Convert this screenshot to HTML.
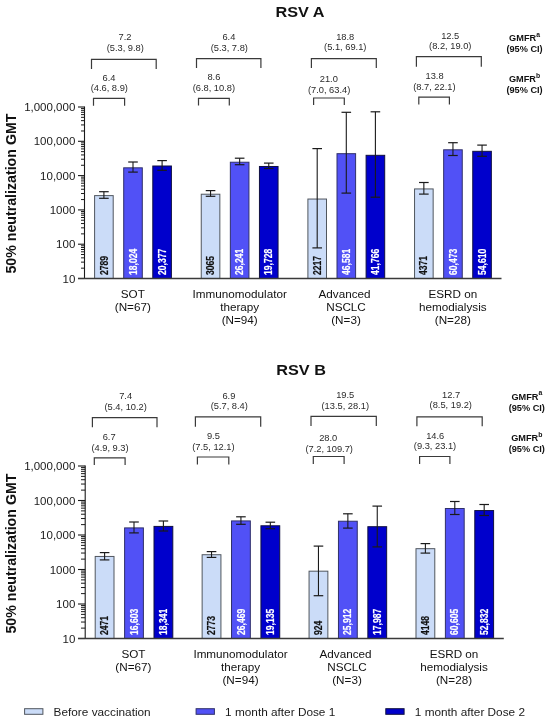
<!DOCTYPE html>
<html><head><meta charset="utf-8"><style>
html,body{margin:0;padding:0;background:#fff;}
svg{display:block;font-family:"Liberation Sans", sans-serif;will-change:transform;}
</style></head><body>
<svg width="550" height="722" viewBox="0 0 550 722">
<rect width="550" height="722" fill="#fff"/>
<text x="0" y="0" font-size="14.4" font-weight="bold" text-anchor="middle" fill="#111" transform="translate(300,16.6) scale(1.13,1)">RSV A</text>
<line x1="84.50" y1="106.50" x2="84.50" y2="278.50" stroke="#1a1a1a" stroke-width="1.1"/>
<line x1="78.00" y1="278.50" x2="84.50" y2="278.50" stroke="#1a1a1a" stroke-width="1.1"/>
<line x1="81.00" y1="268.17" x2="84.50" y2="268.17" stroke="#1a1a1a" stroke-width="1"/>
<line x1="81.00" y1="262.13" x2="84.50" y2="262.13" stroke="#1a1a1a" stroke-width="1"/>
<line x1="81.00" y1="257.85" x2="84.50" y2="257.85" stroke="#1a1a1a" stroke-width="1"/>
<line x1="81.00" y1="254.53" x2="84.50" y2="254.53" stroke="#1a1a1a" stroke-width="1"/>
<line x1="81.00" y1="251.81" x2="84.50" y2="251.81" stroke="#1a1a1a" stroke-width="1"/>
<line x1="81.00" y1="249.51" x2="84.50" y2="249.51" stroke="#1a1a1a" stroke-width="1"/>
<line x1="81.00" y1="247.52" x2="84.50" y2="247.52" stroke="#1a1a1a" stroke-width="1"/>
<line x1="81.00" y1="245.77" x2="84.50" y2="245.77" stroke="#1a1a1a" stroke-width="1"/>
<line x1="78.00" y1="244.20" x2="84.50" y2="244.20" stroke="#1a1a1a" stroke-width="1.1"/>
<line x1="81.00" y1="233.87" x2="84.50" y2="233.87" stroke="#1a1a1a" stroke-width="1"/>
<line x1="81.00" y1="227.83" x2="84.50" y2="227.83" stroke="#1a1a1a" stroke-width="1"/>
<line x1="81.00" y1="223.55" x2="84.50" y2="223.55" stroke="#1a1a1a" stroke-width="1"/>
<line x1="81.00" y1="220.23" x2="84.50" y2="220.23" stroke="#1a1a1a" stroke-width="1"/>
<line x1="81.00" y1="217.51" x2="84.50" y2="217.51" stroke="#1a1a1a" stroke-width="1"/>
<line x1="81.00" y1="215.21" x2="84.50" y2="215.21" stroke="#1a1a1a" stroke-width="1"/>
<line x1="81.00" y1="213.22" x2="84.50" y2="213.22" stroke="#1a1a1a" stroke-width="1"/>
<line x1="81.00" y1="211.47" x2="84.50" y2="211.47" stroke="#1a1a1a" stroke-width="1"/>
<line x1="78.00" y1="209.90" x2="84.50" y2="209.90" stroke="#1a1a1a" stroke-width="1.1"/>
<line x1="81.00" y1="199.57" x2="84.50" y2="199.57" stroke="#1a1a1a" stroke-width="1"/>
<line x1="81.00" y1="193.53" x2="84.50" y2="193.53" stroke="#1a1a1a" stroke-width="1"/>
<line x1="81.00" y1="189.25" x2="84.50" y2="189.25" stroke="#1a1a1a" stroke-width="1"/>
<line x1="81.00" y1="185.93" x2="84.50" y2="185.93" stroke="#1a1a1a" stroke-width="1"/>
<line x1="81.00" y1="183.21" x2="84.50" y2="183.21" stroke="#1a1a1a" stroke-width="1"/>
<line x1="81.00" y1="180.91" x2="84.50" y2="180.91" stroke="#1a1a1a" stroke-width="1"/>
<line x1="81.00" y1="178.92" x2="84.50" y2="178.92" stroke="#1a1a1a" stroke-width="1"/>
<line x1="81.00" y1="177.17" x2="84.50" y2="177.17" stroke="#1a1a1a" stroke-width="1"/>
<line x1="78.00" y1="175.60" x2="84.50" y2="175.60" stroke="#1a1a1a" stroke-width="1.1"/>
<line x1="81.00" y1="165.27" x2="84.50" y2="165.27" stroke="#1a1a1a" stroke-width="1"/>
<line x1="81.00" y1="159.23" x2="84.50" y2="159.23" stroke="#1a1a1a" stroke-width="1"/>
<line x1="81.00" y1="154.95" x2="84.50" y2="154.95" stroke="#1a1a1a" stroke-width="1"/>
<line x1="81.00" y1="151.63" x2="84.50" y2="151.63" stroke="#1a1a1a" stroke-width="1"/>
<line x1="81.00" y1="148.91" x2="84.50" y2="148.91" stroke="#1a1a1a" stroke-width="1"/>
<line x1="81.00" y1="146.61" x2="84.50" y2="146.61" stroke="#1a1a1a" stroke-width="1"/>
<line x1="81.00" y1="144.62" x2="84.50" y2="144.62" stroke="#1a1a1a" stroke-width="1"/>
<line x1="81.00" y1="142.87" x2="84.50" y2="142.87" stroke="#1a1a1a" stroke-width="1"/>
<line x1="78.00" y1="141.30" x2="84.50" y2="141.30" stroke="#1a1a1a" stroke-width="1.1"/>
<line x1="81.00" y1="130.97" x2="84.50" y2="130.97" stroke="#1a1a1a" stroke-width="1"/>
<line x1="81.00" y1="124.93" x2="84.50" y2="124.93" stroke="#1a1a1a" stroke-width="1"/>
<line x1="81.00" y1="120.65" x2="84.50" y2="120.65" stroke="#1a1a1a" stroke-width="1"/>
<line x1="81.00" y1="117.33" x2="84.50" y2="117.33" stroke="#1a1a1a" stroke-width="1"/>
<line x1="81.00" y1="114.61" x2="84.50" y2="114.61" stroke="#1a1a1a" stroke-width="1"/>
<line x1="81.00" y1="112.31" x2="84.50" y2="112.31" stroke="#1a1a1a" stroke-width="1"/>
<line x1="81.00" y1="110.32" x2="84.50" y2="110.32" stroke="#1a1a1a" stroke-width="1"/>
<line x1="81.00" y1="108.57" x2="84.50" y2="108.57" stroke="#1a1a1a" stroke-width="1"/>
<line x1="78.00" y1="107.00" x2="84.50" y2="107.00" stroke="#1a1a1a" stroke-width="1.1"/>
<text x="75.30" y="282.50" font-size="11.5" text-anchor="end" font-weight="normal" fill="#1a1a1a" >10</text>
<text x="75.30" y="248.20" font-size="11.5" text-anchor="end" font-weight="normal" fill="#1a1a1a" >100</text>
<text x="75.30" y="213.90" font-size="11.5" text-anchor="end" font-weight="normal" fill="#1a1a1a" >1000</text>
<text x="75.30" y="179.60" font-size="11.5" text-anchor="end" font-weight="normal" fill="#1a1a1a" >10,000</text>
<text x="75.30" y="145.30" font-size="11.5" text-anchor="end" font-weight="normal" fill="#1a1a1a" >100,000</text>
<text x="75.30" y="111.00" font-size="11.5" text-anchor="end" font-weight="normal" fill="#1a1a1a" >1,000,000</text>
<text x="0" y="0" font-size="14.2" font-weight="bold" text-anchor="middle" fill="#111" transform="translate(15.8,193.6) rotate(-90)">50% neutralization GMT</text>
<rect x="94.60" y="195.62" width="18.60" height="82.88" fill="#cbdcf8" stroke="#50565e" stroke-width="1"/>
<rect x="123.70" y="167.82" width="18.60" height="110.68" fill="#5151f6" stroke="#30306a" stroke-width="1"/>
<rect x="152.80" y="166.00" width="18.60" height="112.50" fill="#0000cc" stroke="#101040" stroke-width="1"/>
<rect x="201.25" y="194.22" width="18.60" height="84.28" fill="#cbdcf8" stroke="#50565e" stroke-width="1"/>
<rect x="230.35" y="162.23" width="18.60" height="116.27" fill="#5151f6" stroke="#30306a" stroke-width="1"/>
<rect x="259.45" y="166.48" width="18.60" height="112.02" fill="#0000cc" stroke="#101040" stroke-width="1"/>
<rect x="307.90" y="199.04" width="18.60" height="79.46" fill="#cbdcf8" stroke="#50565e" stroke-width="1"/>
<rect x="337.00" y="153.68" width="18.60" height="124.82" fill="#5151f6" stroke="#30306a" stroke-width="1"/>
<rect x="366.10" y="155.31" width="18.60" height="123.19" fill="#0000cc" stroke="#101040" stroke-width="1"/>
<rect x="414.55" y="188.93" width="18.60" height="89.57" fill="#cbdcf8" stroke="#50565e" stroke-width="1"/>
<rect x="443.65" y="149.79" width="18.60" height="128.71" fill="#5151f6" stroke="#30306a" stroke-width="1"/>
<rect x="472.75" y="151.31" width="18.60" height="127.19" fill="#0000cc" stroke="#101040" stroke-width="1"/>
<line x1="78.00" y1="278.50" x2="501.50" y2="278.50" stroke="#3a3a3a" stroke-width="1.4"/>
<line x1="103.90" y1="191.70" x2="103.90" y2="198.30" stroke="#1a1a1a" stroke-width="1.1"/>
<line x1="99.10" y1="191.70" x2="108.70" y2="191.70" stroke="#1a1a1a" stroke-width="1.2"/>
<line x1="99.10" y1="198.30" x2="108.70" y2="198.30" stroke="#1a1a1a" stroke-width="1.2"/>
<text x="0" y="0" font-size="10.3" font-weight="bold" fill="#111" stroke="#111" stroke-width="0.2" transform="translate(107.50,274.90) rotate(-90) scale(0.83,1)">2789</text>
<line x1="133.00" y1="162.00" x2="133.00" y2="172.10" stroke="#1a1a1a" stroke-width="1.1"/>
<line x1="128.20" y1="162.00" x2="137.80" y2="162.00" stroke="#1a1a1a" stroke-width="1.2"/>
<line x1="128.20" y1="172.10" x2="137.80" y2="172.10" stroke="#1a1a1a" stroke-width="1.2"/>
<text x="0" y="0" font-size="10.3" font-weight="bold" fill="#fff" stroke="#fff" stroke-width="0.2" transform="translate(136.60,274.90) rotate(-90) scale(0.83,1)">18,024</text>
<line x1="162.10" y1="160.60" x2="162.10" y2="170.30" stroke="#1a1a1a" stroke-width="1.1"/>
<line x1="157.30" y1="160.60" x2="166.90" y2="160.60" stroke="#1a1a1a" stroke-width="1.2"/>
<line x1="157.30" y1="170.30" x2="166.90" y2="170.30" stroke="#1a1a1a" stroke-width="1.2"/>
<text x="0" y="0" font-size="10.3" font-weight="bold" fill="#fff" stroke="#fff" stroke-width="0.2" transform="translate(165.70,274.90) rotate(-90) scale(0.83,1)">20,377</text>
<line x1="210.55" y1="190.60" x2="210.55" y2="196.30" stroke="#1a1a1a" stroke-width="1.1"/>
<line x1="205.75" y1="190.60" x2="215.35" y2="190.60" stroke="#1a1a1a" stroke-width="1.2"/>
<line x1="205.75" y1="196.30" x2="215.35" y2="196.30" stroke="#1a1a1a" stroke-width="1.2"/>
<text x="0" y="0" font-size="10.3" font-weight="bold" fill="#111" stroke="#111" stroke-width="0.2" transform="translate(214.15,274.90) rotate(-90) scale(0.83,1)">3065</text>
<line x1="239.65" y1="158.20" x2="239.65" y2="164.70" stroke="#1a1a1a" stroke-width="1.1"/>
<line x1="234.85" y1="158.20" x2="244.45" y2="158.20" stroke="#1a1a1a" stroke-width="1.2"/>
<line x1="234.85" y1="164.70" x2="244.45" y2="164.70" stroke="#1a1a1a" stroke-width="1.2"/>
<text x="0" y="0" font-size="10.3" font-weight="bold" fill="#fff" stroke="#fff" stroke-width="0.2" transform="translate(243.25,274.90) rotate(-90) scale(0.83,1)">26,241</text>
<line x1="268.75" y1="163.10" x2="268.75" y2="168.50" stroke="#1a1a1a" stroke-width="1.1"/>
<line x1="263.95" y1="163.10" x2="273.55" y2="163.10" stroke="#1a1a1a" stroke-width="1.2"/>
<line x1="263.95" y1="168.50" x2="273.55" y2="168.50" stroke="#1a1a1a" stroke-width="1.2"/>
<text x="0" y="0" font-size="10.3" font-weight="bold" fill="#fff" stroke="#fff" stroke-width="0.2" transform="translate(272.35,274.90) rotate(-90) scale(0.83,1)">19,728</text>
<line x1="317.20" y1="148.60" x2="317.20" y2="247.90" stroke="#1a1a1a" stroke-width="1.1"/>
<line x1="312.40" y1="148.60" x2="322.00" y2="148.60" stroke="#1a1a1a" stroke-width="1.2"/>
<line x1="312.40" y1="247.90" x2="322.00" y2="247.90" stroke="#1a1a1a" stroke-width="1.2"/>
<text x="0" y="0" font-size="10.3" font-weight="bold" fill="#111" stroke="#111" stroke-width="0.2" transform="translate(320.80,274.90) rotate(-90) scale(0.83,1)">2217</text>
<line x1="346.30" y1="112.30" x2="346.30" y2="193.10" stroke="#1a1a1a" stroke-width="1.1"/>
<line x1="341.50" y1="112.30" x2="351.10" y2="112.30" stroke="#1a1a1a" stroke-width="1.2"/>
<line x1="341.50" y1="193.10" x2="351.10" y2="193.10" stroke="#1a1a1a" stroke-width="1.2"/>
<text x="0" y="0" font-size="10.3" font-weight="bold" fill="#fff" stroke="#fff" stroke-width="0.2" transform="translate(349.90,274.90) rotate(-90) scale(0.83,1)">46,581</text>
<line x1="375.40" y1="111.80" x2="375.40" y2="197.20" stroke="#1a1a1a" stroke-width="1.1"/>
<line x1="370.60" y1="111.80" x2="380.20" y2="111.80" stroke="#1a1a1a" stroke-width="1.2"/>
<line x1="370.60" y1="197.20" x2="380.20" y2="197.20" stroke="#1a1a1a" stroke-width="1.2"/>
<text x="0" y="0" font-size="10.3" font-weight="bold" fill="#fff" stroke="#fff" stroke-width="0.2" transform="translate(379.00,274.90) rotate(-90) scale(0.83,1)">41,766</text>
<line x1="423.85" y1="182.50" x2="423.85" y2="194.10" stroke="#1a1a1a" stroke-width="1.1"/>
<line x1="419.05" y1="182.50" x2="428.65" y2="182.50" stroke="#1a1a1a" stroke-width="1.2"/>
<line x1="419.05" y1="194.10" x2="428.65" y2="194.10" stroke="#1a1a1a" stroke-width="1.2"/>
<text x="0" y="0" font-size="10.3" font-weight="bold" fill="#111" stroke="#111" stroke-width="0.2" transform="translate(427.45,274.90) rotate(-90) scale(0.83,1)">4371</text>
<line x1="452.95" y1="142.70" x2="452.95" y2="155.50" stroke="#1a1a1a" stroke-width="1.1"/>
<line x1="448.15" y1="142.70" x2="457.75" y2="142.70" stroke="#1a1a1a" stroke-width="1.2"/>
<line x1="448.15" y1="155.50" x2="457.75" y2="155.50" stroke="#1a1a1a" stroke-width="1.2"/>
<text x="0" y="0" font-size="10.3" font-weight="bold" fill="#fff" stroke="#fff" stroke-width="0.2" transform="translate(456.55,274.90) rotate(-90) scale(0.83,1)">60,473</text>
<line x1="482.05" y1="145.10" x2="482.05" y2="156.30" stroke="#1a1a1a" stroke-width="1.1"/>
<line x1="477.25" y1="145.10" x2="486.85" y2="145.10" stroke="#1a1a1a" stroke-width="1.2"/>
<line x1="477.25" y1="156.30" x2="486.85" y2="156.30" stroke="#1a1a1a" stroke-width="1.2"/>
<text x="0" y="0" font-size="10.3" font-weight="bold" fill="#fff" stroke="#fff" stroke-width="0.2" transform="translate(485.65,274.90) rotate(-90) scale(0.83,1)">54,610</text>
<polyline points="91.50,68.90 91.50,59.30 156.20,59.30 156.20,68.90" fill="none" stroke="#3a3a3a" stroke-width="1.2"/>
<polyline points="196.50,68.10 196.50,58.60 260.90,58.60 260.90,68.10" fill="none" stroke="#3a3a3a" stroke-width="1.2"/>
<polyline points="311.40,68.00 311.40,58.60 376.30,58.60 376.30,68.00" fill="none" stroke="#3a3a3a" stroke-width="1.2"/>
<polyline points="416.40,66.80 416.40,56.60 481.30,56.60 481.30,66.80" fill="none" stroke="#3a3a3a" stroke-width="1.2"/>
<polyline points="93.50,105.70 93.50,98.40 124.60,98.40 124.60,105.70" fill="none" stroke="#3a3a3a" stroke-width="1.2"/>
<polyline points="198.50,105.50 198.50,98.40 229.30,98.40 229.30,105.50" fill="none" stroke="#3a3a3a" stroke-width="1.2"/>
<polyline points="313.60,104.90 313.60,98.00 344.30,98.00 344.30,104.90" fill="none" stroke="#3a3a3a" stroke-width="1.2"/>
<polyline points="418.80,104.50 418.80,97.20 449.40,97.20 449.40,104.50" fill="none" stroke="#3a3a3a" stroke-width="1.2"/>
<text x="125.00" y="40.30" font-size="9.3" text-anchor="middle" font-weight="normal" fill="#2a2a2a" >7.2</text>
<text x="125.25" y="51.20" font-size="9.3" text-anchor="middle" font-weight="normal" fill="#2a2a2a" >(5.3, 9.8)</text>
<text x="228.85" y="40.00" font-size="9.3" text-anchor="middle" font-weight="normal" fill="#2a2a2a" >6.4</text>
<text x="229.30" y="50.80" font-size="9.3" text-anchor="middle" font-weight="normal" fill="#2a2a2a" >(5.3, 7.8)</text>
<text x="345.25" y="39.60" font-size="9.3" text-anchor="middle" font-weight="normal" fill="#2a2a2a" >18.8</text>
<text x="345.25" y="50.40" font-size="9.3" text-anchor="middle" font-weight="normal" fill="#2a2a2a" >(5.1, 69.1)</text>
<text x="450.25" y="38.60" font-size="9.3" text-anchor="middle" font-weight="normal" fill="#2a2a2a" >12.5</text>
<text x="450.25" y="48.90" font-size="9.3" text-anchor="middle" font-weight="normal" fill="#2a2a2a" >(8.2, 19.0)</text>
<text x="109.00" y="80.50" font-size="9.3" text-anchor="middle" font-weight="normal" fill="#2a2a2a" >6.4</text>
<text x="109.30" y="91.10" font-size="9.3" text-anchor="middle" font-weight="normal" fill="#2a2a2a" >(4.6, 8.9)</text>
<text x="213.85" y="80.30" font-size="9.3" text-anchor="middle" font-weight="normal" fill="#2a2a2a" >8.6</text>
<text x="213.85" y="91.20" font-size="9.3" text-anchor="middle" font-weight="normal" fill="#2a2a2a" >(6.8, 10.8)</text>
<text x="328.85" y="82.10" font-size="9.3" text-anchor="middle" font-weight="normal" fill="#2a2a2a" >21.0</text>
<text x="329.10" y="92.60" font-size="9.3" text-anchor="middle" font-weight="normal" fill="#2a2a2a" >(7.0, 63.4)</text>
<text x="434.55" y="78.80" font-size="9.3" text-anchor="middle" font-weight="normal" fill="#2a2a2a" >13.8</text>
<text x="434.35" y="89.70" font-size="9.3" text-anchor="middle" font-weight="normal" fill="#2a2a2a" >(8.7, 22.1)</text>
<text x="524.50" y="41.00" font-size="9.2" font-weight="bold" text-anchor="middle" fill="#111">GMFR<tspan font-size="6.8" dy="-4.3">a</tspan></text>
<text x="524.50" y="51.80" font-size="9.2" text-anchor="middle" font-weight="bold" fill="#111" >(95% CI)</text>
<text x="524.50" y="82.40" font-size="9.2" font-weight="bold" text-anchor="middle" fill="#111">GMFR<tspan font-size="6.8" dy="-4.3">b</tspan></text>
<text x="524.50" y="93.20" font-size="9.2" text-anchor="middle" font-weight="bold" fill="#111" >(95% CI)</text>
<text x="132.80" y="298.00" font-size="11.7" text-anchor="middle" font-weight="normal" fill="#111" >SOT</text>
<text x="132.80" y="311.10" font-size="11.7" text-anchor="middle" font-weight="normal" fill="#111" >(N=67)</text>
<text x="239.70" y="298.00" font-size="11.7" text-anchor="middle" font-weight="normal" fill="#111" >Immunomodulator</text>
<text x="239.70" y="311.10" font-size="11.7" text-anchor="middle" font-weight="normal" fill="#111" >therapy</text>
<text x="239.70" y="324.20" font-size="11.7" text-anchor="middle" font-weight="normal" fill="#111" >(N=94)</text>
<text x="344.50" y="298.00" font-size="11.7" text-anchor="middle" font-weight="normal" fill="#111" >Advanced</text>
<text x="346.00" y="311.10" font-size="11.7" text-anchor="middle" font-weight="normal" fill="#111" >NSCLC</text>
<text x="346.00" y="324.20" font-size="11.7" text-anchor="middle" font-weight="normal" fill="#111" >(N=3)</text>
<text x="452.80" y="298.00" font-size="11.7" text-anchor="middle" font-weight="normal" fill="#111" >ESRD on</text>
<text x="452.80" y="311.10" font-size="11.7" text-anchor="middle" font-weight="normal" fill="#111" >hemodialysis</text>
<text x="452.80" y="324.20" font-size="11.7" text-anchor="middle" font-weight="normal" fill="#111" >(N=28)</text>
<text x="0" y="0" font-size="14.4" font-weight="bold" text-anchor="middle" fill="#111" transform="translate(301.1,375.0) scale(1.13,1)">RSV B</text>
<line x1="85.20" y1="465.50" x2="85.20" y2="638.50" stroke="#1a1a1a" stroke-width="1.1"/>
<line x1="78.00" y1="638.50" x2="85.20" y2="638.50" stroke="#1a1a1a" stroke-width="1.1"/>
<line x1="81.00" y1="628.11" x2="85.20" y2="628.11" stroke="#1a1a1a" stroke-width="1"/>
<line x1="81.00" y1="622.04" x2="85.20" y2="622.04" stroke="#1a1a1a" stroke-width="1"/>
<line x1="81.00" y1="617.73" x2="85.20" y2="617.73" stroke="#1a1a1a" stroke-width="1"/>
<line x1="81.00" y1="614.39" x2="85.20" y2="614.39" stroke="#1a1a1a" stroke-width="1"/>
<line x1="81.00" y1="611.65" x2="85.20" y2="611.65" stroke="#1a1a1a" stroke-width="1"/>
<line x1="81.00" y1="609.34" x2="85.20" y2="609.34" stroke="#1a1a1a" stroke-width="1"/>
<line x1="81.00" y1="607.34" x2="85.20" y2="607.34" stroke="#1a1a1a" stroke-width="1"/>
<line x1="81.00" y1="605.58" x2="85.20" y2="605.58" stroke="#1a1a1a" stroke-width="1"/>
<line x1="78.00" y1="604.00" x2="85.20" y2="604.00" stroke="#1a1a1a" stroke-width="1.1"/>
<line x1="81.00" y1="593.61" x2="85.20" y2="593.61" stroke="#1a1a1a" stroke-width="1"/>
<line x1="81.00" y1="587.54" x2="85.20" y2="587.54" stroke="#1a1a1a" stroke-width="1"/>
<line x1="81.00" y1="583.23" x2="85.20" y2="583.23" stroke="#1a1a1a" stroke-width="1"/>
<line x1="81.00" y1="579.89" x2="85.20" y2="579.89" stroke="#1a1a1a" stroke-width="1"/>
<line x1="81.00" y1="577.15" x2="85.20" y2="577.15" stroke="#1a1a1a" stroke-width="1"/>
<line x1="81.00" y1="574.84" x2="85.20" y2="574.84" stroke="#1a1a1a" stroke-width="1"/>
<line x1="81.00" y1="572.84" x2="85.20" y2="572.84" stroke="#1a1a1a" stroke-width="1"/>
<line x1="81.00" y1="571.08" x2="85.20" y2="571.08" stroke="#1a1a1a" stroke-width="1"/>
<line x1="78.00" y1="569.50" x2="85.20" y2="569.50" stroke="#1a1a1a" stroke-width="1.1"/>
<line x1="81.00" y1="559.11" x2="85.20" y2="559.11" stroke="#1a1a1a" stroke-width="1"/>
<line x1="81.00" y1="553.04" x2="85.20" y2="553.04" stroke="#1a1a1a" stroke-width="1"/>
<line x1="81.00" y1="548.73" x2="85.20" y2="548.73" stroke="#1a1a1a" stroke-width="1"/>
<line x1="81.00" y1="545.39" x2="85.20" y2="545.39" stroke="#1a1a1a" stroke-width="1"/>
<line x1="81.00" y1="542.65" x2="85.20" y2="542.65" stroke="#1a1a1a" stroke-width="1"/>
<line x1="81.00" y1="540.34" x2="85.20" y2="540.34" stroke="#1a1a1a" stroke-width="1"/>
<line x1="81.00" y1="538.34" x2="85.20" y2="538.34" stroke="#1a1a1a" stroke-width="1"/>
<line x1="81.00" y1="536.58" x2="85.20" y2="536.58" stroke="#1a1a1a" stroke-width="1"/>
<line x1="78.00" y1="535.00" x2="85.20" y2="535.00" stroke="#1a1a1a" stroke-width="1.1"/>
<line x1="81.00" y1="524.61" x2="85.20" y2="524.61" stroke="#1a1a1a" stroke-width="1"/>
<line x1="81.00" y1="518.54" x2="85.20" y2="518.54" stroke="#1a1a1a" stroke-width="1"/>
<line x1="81.00" y1="514.23" x2="85.20" y2="514.23" stroke="#1a1a1a" stroke-width="1"/>
<line x1="81.00" y1="510.89" x2="85.20" y2="510.89" stroke="#1a1a1a" stroke-width="1"/>
<line x1="81.00" y1="508.15" x2="85.20" y2="508.15" stroke="#1a1a1a" stroke-width="1"/>
<line x1="81.00" y1="505.84" x2="85.20" y2="505.84" stroke="#1a1a1a" stroke-width="1"/>
<line x1="81.00" y1="503.84" x2="85.20" y2="503.84" stroke="#1a1a1a" stroke-width="1"/>
<line x1="81.00" y1="502.08" x2="85.20" y2="502.08" stroke="#1a1a1a" stroke-width="1"/>
<line x1="78.00" y1="500.50" x2="85.20" y2="500.50" stroke="#1a1a1a" stroke-width="1.1"/>
<line x1="81.00" y1="490.11" x2="85.20" y2="490.11" stroke="#1a1a1a" stroke-width="1"/>
<line x1="81.00" y1="484.04" x2="85.20" y2="484.04" stroke="#1a1a1a" stroke-width="1"/>
<line x1="81.00" y1="479.73" x2="85.20" y2="479.73" stroke="#1a1a1a" stroke-width="1"/>
<line x1="81.00" y1="476.39" x2="85.20" y2="476.39" stroke="#1a1a1a" stroke-width="1"/>
<line x1="81.00" y1="473.65" x2="85.20" y2="473.65" stroke="#1a1a1a" stroke-width="1"/>
<line x1="81.00" y1="471.34" x2="85.20" y2="471.34" stroke="#1a1a1a" stroke-width="1"/>
<line x1="81.00" y1="469.34" x2="85.20" y2="469.34" stroke="#1a1a1a" stroke-width="1"/>
<line x1="81.00" y1="467.58" x2="85.20" y2="467.58" stroke="#1a1a1a" stroke-width="1"/>
<line x1="78.00" y1="466.00" x2="85.20" y2="466.00" stroke="#1a1a1a" stroke-width="1.1"/>
<text x="75.30" y="642.50" font-size="11.5" text-anchor="end" font-weight="normal" fill="#1a1a1a" >10</text>
<text x="75.30" y="608.00" font-size="11.5" text-anchor="end" font-weight="normal" fill="#1a1a1a" >100</text>
<text x="75.30" y="573.50" font-size="11.5" text-anchor="end" font-weight="normal" fill="#1a1a1a" >1000</text>
<text x="75.30" y="539.00" font-size="11.5" text-anchor="end" font-weight="normal" fill="#1a1a1a" >10,000</text>
<text x="75.30" y="504.50" font-size="11.5" text-anchor="end" font-weight="normal" fill="#1a1a1a" >100,000</text>
<text x="75.30" y="470.00" font-size="11.5" text-anchor="end" font-weight="normal" fill="#1a1a1a" >1,000,000</text>
<text x="0" y="0" font-size="14.2" font-weight="bold" text-anchor="middle" fill="#111" transform="translate(15.8,553.6) rotate(-90)">50% neutralization GMT</text>
<rect x="95.20" y="556.45" width="18.80" height="82.05" fill="#cbdcf8" stroke="#50565e" stroke-width="1"/>
<rect x="124.60" y="527.90" width="18.80" height="110.60" fill="#5151f6" stroke="#30306a" stroke-width="1"/>
<rect x="154.00" y="526.41" width="18.80" height="112.09" fill="#0000cc" stroke="#101040" stroke-width="1"/>
<rect x="202.13" y="554.72" width="18.80" height="83.78" fill="#cbdcf8" stroke="#50565e" stroke-width="1"/>
<rect x="231.53" y="520.92" width="18.80" height="117.58" fill="#5151f6" stroke="#30306a" stroke-width="1"/>
<rect x="260.93" y="525.78" width="18.80" height="112.72" fill="#0000cc" stroke="#101040" stroke-width="1"/>
<rect x="309.06" y="571.18" width="18.80" height="67.32" fill="#cbdcf8" stroke="#50565e" stroke-width="1"/>
<rect x="338.46" y="521.23" width="18.80" height="117.27" fill="#5151f6" stroke="#30306a" stroke-width="1"/>
<rect x="367.86" y="526.70" width="18.80" height="111.80" fill="#0000cc" stroke="#101040" stroke-width="1"/>
<rect x="415.99" y="548.68" width="18.80" height="89.82" fill="#cbdcf8" stroke="#50565e" stroke-width="1"/>
<rect x="445.39" y="508.50" width="18.80" height="130.00" fill="#5151f6" stroke="#30306a" stroke-width="1"/>
<rect x="474.79" y="510.56" width="18.80" height="127.94" fill="#0000cc" stroke="#101040" stroke-width="1"/>
<line x1="78.00" y1="638.50" x2="503.80" y2="638.50" stroke="#3a3a3a" stroke-width="1.4"/>
<line x1="104.60" y1="552.60" x2="104.60" y2="559.90" stroke="#1a1a1a" stroke-width="1.1"/>
<line x1="99.80" y1="552.60" x2="109.40" y2="552.60" stroke="#1a1a1a" stroke-width="1.2"/>
<line x1="99.80" y1="559.90" x2="109.40" y2="559.90" stroke="#1a1a1a" stroke-width="1.2"/>
<text x="0" y="0" font-size="10.3" font-weight="bold" fill="#111" stroke="#111" stroke-width="0.2" transform="translate(108.20,634.90) rotate(-90) scale(0.83,1)">2471</text>
<line x1="134.00" y1="522.00" x2="134.00" y2="532.90" stroke="#1a1a1a" stroke-width="1.1"/>
<line x1="129.20" y1="522.00" x2="138.80" y2="522.00" stroke="#1a1a1a" stroke-width="1.2"/>
<line x1="129.20" y1="532.90" x2="138.80" y2="532.90" stroke="#1a1a1a" stroke-width="1.2"/>
<text x="0" y="0" font-size="10.3" font-weight="bold" fill="#fff" stroke="#fff" stroke-width="0.2" transform="translate(137.60,634.90) rotate(-90) scale(0.83,1)">16,603</text>
<line x1="163.40" y1="521.00" x2="163.40" y2="531.00" stroke="#1a1a1a" stroke-width="1.1"/>
<line x1="158.60" y1="521.00" x2="168.20" y2="521.00" stroke="#1a1a1a" stroke-width="1.2"/>
<line x1="158.60" y1="531.00" x2="168.20" y2="531.00" stroke="#1a1a1a" stroke-width="1.2"/>
<text x="0" y="0" font-size="10.3" font-weight="bold" fill="#fff" stroke="#fff" stroke-width="0.2" transform="translate(167.00,634.90) rotate(-90) scale(0.83,1)">18,341</text>
<line x1="211.53" y1="551.60" x2="211.53" y2="557.40" stroke="#1a1a1a" stroke-width="1.1"/>
<line x1="206.73" y1="551.60" x2="216.33" y2="551.60" stroke="#1a1a1a" stroke-width="1.2"/>
<line x1="206.73" y1="557.40" x2="216.33" y2="557.40" stroke="#1a1a1a" stroke-width="1.2"/>
<text x="0" y="0" font-size="10.3" font-weight="bold" fill="#111" stroke="#111" stroke-width="0.2" transform="translate(215.13,634.90) rotate(-90) scale(0.83,1)">2773</text>
<line x1="240.93" y1="516.80" x2="240.93" y2="524.30" stroke="#1a1a1a" stroke-width="1.1"/>
<line x1="236.13" y1="516.80" x2="245.73" y2="516.80" stroke="#1a1a1a" stroke-width="1.2"/>
<line x1="236.13" y1="524.30" x2="245.73" y2="524.30" stroke="#1a1a1a" stroke-width="1.2"/>
<text x="0" y="0" font-size="10.3" font-weight="bold" fill="#fff" stroke="#fff" stroke-width="0.2" transform="translate(244.53,634.90) rotate(-90) scale(0.83,1)">26,469</text>
<line x1="270.33" y1="522.20" x2="270.33" y2="528.70" stroke="#1a1a1a" stroke-width="1.1"/>
<line x1="265.53" y1="522.20" x2="275.13" y2="522.20" stroke="#1a1a1a" stroke-width="1.2"/>
<line x1="265.53" y1="528.70" x2="275.13" y2="528.70" stroke="#1a1a1a" stroke-width="1.2"/>
<text x="0" y="0" font-size="10.3" font-weight="bold" fill="#fff" stroke="#fff" stroke-width="0.2" transform="translate(273.93,634.90) rotate(-90) scale(0.83,1)">19,135</text>
<line x1="318.46" y1="546.10" x2="318.46" y2="595.70" stroke="#1a1a1a" stroke-width="1.1"/>
<line x1="313.66" y1="546.10" x2="323.26" y2="546.10" stroke="#1a1a1a" stroke-width="1.2"/>
<line x1="313.66" y1="595.70" x2="323.26" y2="595.70" stroke="#1a1a1a" stroke-width="1.2"/>
<text x="0" y="0" font-size="10.3" font-weight="bold" fill="#111" stroke="#111" stroke-width="0.2" transform="translate(322.06,634.90) rotate(-90) scale(0.83,1)">924</text>
<line x1="347.86" y1="513.80" x2="347.86" y2="528.10" stroke="#1a1a1a" stroke-width="1.1"/>
<line x1="343.06" y1="513.80" x2="352.66" y2="513.80" stroke="#1a1a1a" stroke-width="1.2"/>
<line x1="343.06" y1="528.10" x2="352.66" y2="528.10" stroke="#1a1a1a" stroke-width="1.2"/>
<text x="0" y="0" font-size="10.3" font-weight="bold" fill="#fff" stroke="#fff" stroke-width="0.2" transform="translate(351.46,634.90) rotate(-90) scale(0.83,1)">25,912</text>
<line x1="377.26" y1="506.10" x2="377.26" y2="546.90" stroke="#1a1a1a" stroke-width="1.1"/>
<line x1="372.46" y1="506.10" x2="382.06" y2="506.10" stroke="#1a1a1a" stroke-width="1.2"/>
<line x1="372.46" y1="546.90" x2="382.06" y2="546.90" stroke="#1a1a1a" stroke-width="1.2"/>
<text x="0" y="0" font-size="10.3" font-weight="bold" fill="#fff" stroke="#fff" stroke-width="0.2" transform="translate(380.86,634.90) rotate(-90) scale(0.83,1)">17,987</text>
<line x1="425.39" y1="543.60" x2="425.39" y2="553.10" stroke="#1a1a1a" stroke-width="1.1"/>
<line x1="420.59" y1="543.60" x2="430.19" y2="543.60" stroke="#1a1a1a" stroke-width="1.2"/>
<line x1="420.59" y1="553.10" x2="430.19" y2="553.10" stroke="#1a1a1a" stroke-width="1.2"/>
<text x="0" y="0" font-size="10.3" font-weight="bold" fill="#111" stroke="#111" stroke-width="0.2" transform="translate(428.99,634.90) rotate(-90) scale(0.83,1)">4148</text>
<line x1="454.79" y1="501.50" x2="454.79" y2="514.50" stroke="#1a1a1a" stroke-width="1.1"/>
<line x1="449.99" y1="501.50" x2="459.59" y2="501.50" stroke="#1a1a1a" stroke-width="1.2"/>
<line x1="449.99" y1="514.50" x2="459.59" y2="514.50" stroke="#1a1a1a" stroke-width="1.2"/>
<text x="0" y="0" font-size="10.3" font-weight="bold" fill="#fff" stroke="#fff" stroke-width="0.2" transform="translate(458.39,634.90) rotate(-90) scale(0.83,1)">60,605</text>
<line x1="484.19" y1="504.50" x2="484.19" y2="515.50" stroke="#1a1a1a" stroke-width="1.1"/>
<line x1="479.39" y1="504.50" x2="488.99" y2="504.50" stroke="#1a1a1a" stroke-width="1.2"/>
<line x1="479.39" y1="515.50" x2="488.99" y2="515.50" stroke="#1a1a1a" stroke-width="1.2"/>
<text x="0" y="0" font-size="10.3" font-weight="bold" fill="#fff" stroke="#fff" stroke-width="0.2" transform="translate(487.79,634.90) rotate(-90) scale(0.83,1)">52,832</text>
<polyline points="92.40,427.30 92.40,417.60 157.00,417.60 157.00,427.30" fill="none" stroke="#3a3a3a" stroke-width="1.2"/>
<polyline points="195.40,426.70 195.40,416.90 260.70,416.90 260.70,426.70" fill="none" stroke="#3a3a3a" stroke-width="1.2"/>
<polyline points="311.00,425.90 311.00,416.40 376.30,416.40 376.30,425.90" fill="none" stroke="#3a3a3a" stroke-width="1.2"/>
<polyline points="416.90,426.20 416.90,416.90 482.20,416.90 482.20,426.20" fill="none" stroke="#3a3a3a" stroke-width="1.2"/>
<polyline points="94.30,465.00 94.30,457.90 125.10,457.90 125.10,465.00" fill="none" stroke="#3a3a3a" stroke-width="1.2"/>
<polyline points="197.40,464.40 197.40,457.00 228.80,457.00 228.80,464.40" fill="none" stroke="#3a3a3a" stroke-width="1.2"/>
<polyline points="313.30,464.00 313.30,456.50 344.10,456.50 344.10,464.00" fill="none" stroke="#3a3a3a" stroke-width="1.2"/>
<polyline points="419.60,464.00 419.60,456.50 449.90,456.50 449.90,464.00" fill="none" stroke="#3a3a3a" stroke-width="1.2"/>
<text x="125.65" y="399.20" font-size="9.3" text-anchor="middle" font-weight="normal" fill="#2a2a2a" >7.4</text>
<text x="125.65" y="410.40" font-size="9.3" text-anchor="middle" font-weight="normal" fill="#2a2a2a" >(5.4, 10.2)</text>
<text x="228.90" y="398.60" font-size="9.3" text-anchor="middle" font-weight="normal" fill="#2a2a2a" >6.9</text>
<text x="229.25" y="409.20" font-size="9.3" text-anchor="middle" font-weight="normal" fill="#2a2a2a" >(5.7, 8.4)</text>
<text x="345.25" y="398.20" font-size="9.3" text-anchor="middle" font-weight="normal" fill="#2a2a2a" >19.5</text>
<text x="345.25" y="408.90" font-size="9.3" text-anchor="middle" font-weight="normal" fill="#2a2a2a" >(13.5, 28.1)</text>
<text x="451.15" y="398.20" font-size="9.3" text-anchor="middle" font-weight="normal" fill="#2a2a2a" >12.7</text>
<text x="450.75" y="408.40" font-size="9.3" text-anchor="middle" font-weight="normal" fill="#2a2a2a" >(8.5, 19.2)</text>
<text x="109.10" y="439.90" font-size="9.3" text-anchor="middle" font-weight="normal" fill="#2a2a2a" >6.7</text>
<text x="110.00" y="450.80" font-size="9.3" text-anchor="middle" font-weight="normal" fill="#2a2a2a" >(4.9, 9.3)</text>
<text x="213.40" y="439.10" font-size="9.3" text-anchor="middle" font-weight="normal" fill="#2a2a2a" >9.5</text>
<text x="213.40" y="450.00" font-size="9.3" text-anchor="middle" font-weight="normal" fill="#2a2a2a" >(7.5, 12.1)</text>
<text x="328.25" y="440.70" font-size="9.3" text-anchor="middle" font-weight="normal" fill="#2a2a2a" >28.0</text>
<text x="329.20" y="451.90" font-size="9.3" text-anchor="middle" font-weight="normal" fill="#2a2a2a" >(7.2, 109.7)</text>
<text x="435.20" y="438.80" font-size="9.3" text-anchor="middle" font-weight="normal" fill="#2a2a2a" >14.6</text>
<text x="435.00" y="449.20" font-size="9.3" text-anchor="middle" font-weight="normal" fill="#2a2a2a" >(9.3, 23.1)</text>
<text x="526.80" y="399.70" font-size="9.2" font-weight="bold" text-anchor="middle" fill="#111">GMFR<tspan font-size="6.8" dy="-4.3">a</tspan></text>
<text x="526.80" y="410.50" font-size="9.2" text-anchor="middle" font-weight="bold" fill="#111" >(95% CI)</text>
<text x="526.80" y="441.10" font-size="9.2" font-weight="bold" text-anchor="middle" fill="#111">GMFR<tspan font-size="6.8" dy="-4.3">b</tspan></text>
<text x="526.80" y="451.90" font-size="9.2" text-anchor="middle" font-weight="bold" fill="#111" >(95% CI)</text>
<text x="133.40" y="657.70" font-size="11.7" text-anchor="middle" font-weight="normal" fill="#111" >SOT</text>
<text x="133.40" y="670.80" font-size="11.7" text-anchor="middle" font-weight="normal" fill="#111" >(N=67)</text>
<text x="240.50" y="657.70" font-size="11.7" text-anchor="middle" font-weight="normal" fill="#111" >Immunomodulator</text>
<text x="240.50" y="670.80" font-size="11.7" text-anchor="middle" font-weight="normal" fill="#111" >therapy</text>
<text x="240.50" y="683.90" font-size="11.7" text-anchor="middle" font-weight="normal" fill="#111" >(N=94)</text>
<text x="345.50" y="657.70" font-size="11.7" text-anchor="middle" font-weight="normal" fill="#111" >Advanced</text>
<text x="347.00" y="670.80" font-size="11.7" text-anchor="middle" font-weight="normal" fill="#111" >NSCLC</text>
<text x="347.00" y="683.90" font-size="11.7" text-anchor="middle" font-weight="normal" fill="#111" >(N=3)</text>
<text x="454.00" y="657.70" font-size="11.7" text-anchor="middle" font-weight="normal" fill="#111" >ESRD on</text>
<text x="454.00" y="670.80" font-size="11.7" text-anchor="middle" font-weight="normal" fill="#111" >hemodialysis</text>
<text x="454.00" y="683.90" font-size="11.7" text-anchor="middle" font-weight="normal" fill="#111" >(N=28)</text>
<rect x="24.60" y="708.70" width="18.30" height="5.60" fill="#cbdcf8" stroke="#50565e" stroke-width="1"/>
<text x="53.60" y="715.50" font-size="11.8" text-anchor="start" font-weight="normal" fill="#1a1a1a" >Before vaccination</text>
<rect x="196.10" y="708.70" width="18.30" height="5.60" fill="#5151f6" stroke="#30306a" stroke-width="1"/>
<text x="225.10" y="715.50" font-size="11.8" text-anchor="start" font-weight="normal" fill="#1a1a1a" >1 month after Dose 1</text>
<rect x="385.80" y="708.70" width="18.30" height="5.60" fill="#0000cc" stroke="#101040" stroke-width="1"/>
<text x="414.80" y="715.50" font-size="11.8" text-anchor="start" font-weight="normal" fill="#1a1a1a" >1 month after Dose 2</text>
</svg>
</body></html>
